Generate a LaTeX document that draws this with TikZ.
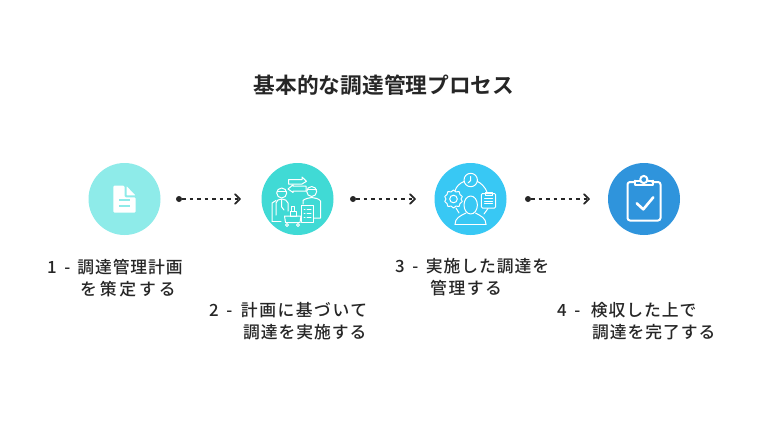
\documentclass[tikz,border=0pt]{standalone}
\usepackage{fontspec}
\setmainfont{Noto Sans CJK JP}
\newfontfamily\lab[LetterSpace=5.6]{Noto Sans CJK JP Medium}
\newfontfamily\labw[LetterSpace=9]{Noto Sans CJK JP Medium}
\newfontfamily\labx[LetterSpace=17]{Noto Sans CJK JP Medium}
\newfontfamily\ttl{Noto Sans CJK JP Bold}
\usetikzlibrary{arrows.meta}
\definecolor{ca}{HTML}{8EEBE9}
\definecolor{cb}{HTML}{40DAD5}
\definecolor{cc}{HTML}{38C8F4}
\definecolor{cd}{HTML}{2F94DC}
\definecolor{ink}{HTML}{262626}
\newcommand{\gapa}{\hspace*{7.5pt}}
\newcommand{\gapb}{\hspace*{7pt}}
\tikzset{
  disc/.style={circle,minimum size=72pt,inner sep=0pt,fill=#1},
  label text/.style={anchor=north west,align=left,inner sep=0pt,text=ink,font=\fontsize{16.8}{22}\selectfont\lab},
  conn/.style={draw=ink,line width=1.8pt,dash pattern=on 3.6pt off 3.9pt},
  startdot/.style={circle,fill=ink,inner sep=0pt,minimum size=6pt},
  chev/.style={draw=ink,line width=1.7pt,line cap=round,line join=round},
  ico/.style={draw=white,line width=1pt,line join=round,line cap=round},
}
\begin{document}
\begin{tikzpicture}[x=1pt,y=-1pt]
\useasboundingbox (0,0) rectangle (768,432);
\fill[white] (0,0) rectangle (768,432);
% title
\node[text=ink,inner sep=0pt,font=\fontsize{21.7}{26}\selectfont\ttl] (title) at (384,85) {基本的な調達管理プロセス};
% discs
\node[disc=ca] (c1) at (124.5,199) {};
\node[disc=cb] (c2) at (297.5,199) {};
\node[disc=cc] (c3) at (470.5,199) {};
\node[disc=cd] (c4) at (644,199) {};
% connectors
\node[startdot] (s1) at (179,199) {};
\node[startdot] (s2) at (353,199) {};
\node[startdot] (s3) at (528,199) {};
\coordinate (e1) at (240,199);
\coordinate (e2) at (415,199);
\coordinate (e3) at (589,199);
\foreach \a/\b in {s1/e1,s2/e2,s3/e3}{
  \draw[conn] (\a) -- (\b);
  \draw[chev] ([shift={(-5,-4.8)}]\b) -- (\b) -- ([shift={(-5,4.8)}]\b);
}
% icon 1: document
\fill[white,rounded corners=1.2pt] (113.3,185.7) -- (124.6,185.7) -- (124.6,197.4) -- (135.7,197.4) -- (135.7,212.7) -- (113.3,212.7) -- cycle;
\fill[white,rounded corners=.6pt] (126.6,186.2) -- (135.4,195.4) -- (126.6,195.4) -- cycle;
\fill[ca] (119,199) rectangle (130,201);
\fill[ca] (119,204.6) rectangle (130,206.6);
% icon 2: two people, cart, clipboard, arrows
\begin{scope}[ico]
  % exchange arrows
  \draw (288.5,179.5) -- (302,179.5) -- (302,177) -- (306.5,181.3) -- (302,184) -- (288.5,184) -- cycle;
  \draw (306,186) -- (293,186) -- (293,184.8) -- (288,189) -- (293,192.5) -- (293,191) -- (306,191) -- cycle;
  % left person
  \draw (281.7,193) circle[radius=5];
  \draw (277,191) -- (286.5,191);
  \draw (276,215) -- (276,203) .. controls (276,200) and (279,199.5) .. (281.7,199) .. controls (284.5,199.5) and (287.5,200) .. (288,203) -- (288,211);
  \draw (272,221) -- (272,203) -- (276,200.5);
  \draw (272,221) -- (281,221);
  \draw (281.7,199) -- (281.7,207) -- (284,210);
  % right person
  \draw (311.7,191.5) circle[radius=5];
  \draw (307,189.5) -- (316.5,189.5);
  \draw (303,204) -- (303,200.5) .. controls (305,198.5) and (309,198) .. (311.7,197.5) .. controls (315,198) and (319,198.5) .. (320.5,201) -- (320.5,218) -- (314,218);
  % cart
  \draw (284.5,216) -- (301,216) -- (300,222.5) -- (285.5,222.5) -- cycle;
  \draw (290,211) rectangle (296,216);
  \draw (291.5,206.5) rectangle (294.5,211);
  \draw (287,225) circle[radius=1.5];
  \draw (298,225) circle[radius=1.5];
  % clipboard
  \draw[fill=cb] (301,205) rectangle (313.5,222);
  \draw (304,209) -- (305,209) (307,209) -- (311,209);
  \draw (304,213) -- (305,213) (307,213) -- (311,213);
  \draw (304,217) -- (305,217) (307,217) -- (311,217);
\end{scope}
% icon 3: person, clock, gear, clipboard
\begin{scope}[ico]
  \draw (470.7,180) circle[radius=6.7];
  \draw (470.7,176.5) -- (470.7,180.5) -- (468,183);
  \draw (455,191) .. controls (456,186.5) and (460,183) .. (464,181.5);
  \draw (477.5,181.5) .. controls (481,183) and (485,187) .. (487,192);
  \draw (470.7,205) ellipse[x radius=6.7,y radius=9];
  \draw (455,224.5) -- (486,224.5);
  \draw (455,224.5) .. controls (455,218) and (460,216) .. (466,213);
  \draw (486,224.5) .. controls (486,218) and (481,216) .. (475.5,213);
  % gear
  \draw plot[smooth cycle,tension=.5] coordinates {
    (453.5,190) (456,192) (459,191.5) (460,194.5) (462.3,196.5) (461,199) (462.3,201.5) (460,203.5) (459,206.5) (456,206) (453.5,208) (451,206) (448,206.5) (447,203.5) (444.7,201.5) (446,199) (444.7,196.5) (447,194.5) (448,191.5) (451,192)};
  \draw (453.5,199) circle[radius=3.8];
  % clipboard
  \draw[rounded corners=1.2pt] (481.3,193.5) rectangle (495.7,208);
  \draw (485,192) rectangle (492,195);
  \draw (484.5,198.5) -- (492.5,198.5) (484.5,201) -- (492.5,201) (484.5,203.5) -- (492.5,203.5);
  % lower side arcs
  \draw (456,208) -- (459,213);
  \draw (488,208.5) -- (484,214);
\end{scope}
% icon 4: clipboard with tick
\begin{scope}[draw=white,line width=2pt,line join=round,line cap=round]
  \draw[rounded corners=2.5pt] (635,182) -- (627.5,182) -- (627.5,220.5) -- (660.5,220.5) -- (660.5,182) -- (652,182);
  \draw (634.5,180.5) -- (634.5,184.5) -- (653,184.5) -- (653,180.5);
  \draw (634.5,180.5) -- (639.5,180.5) (648,180.5) -- (653,180.5);
  \draw (643.8,179.5) circle[radius=3.6];
  \draw[line width=2.6pt] (636.7,203.3) -- (643.3,209.3) -- (653.3,197.3);
\end{scope}
% labels
\node[label text] (l1) at (47,259) {1\gapa-\gapb 調達管理計画\\\hspace*{33pt}{\labx を策定する}};
\node[label text] (l2) at (209,302) {2\gapa-\gapb\hspace*{1.7pt}{\labw 計画に基づいて}\\\hspace*{34pt}調達を実施する};
\node[label text] (l3) at (395,258) {3\gapa-\gapb\hspace*{.7pt}実施した調達を\\\hspace*{35pt}{\labw 管理する}};
\node[label text] (l4) at (557,302) {4\gapa-\gapb\hspace*{3.7pt}検収した上で\\\hspace*{35pt}調達を完了する};
\end{tikzpicture}
\end{document}
